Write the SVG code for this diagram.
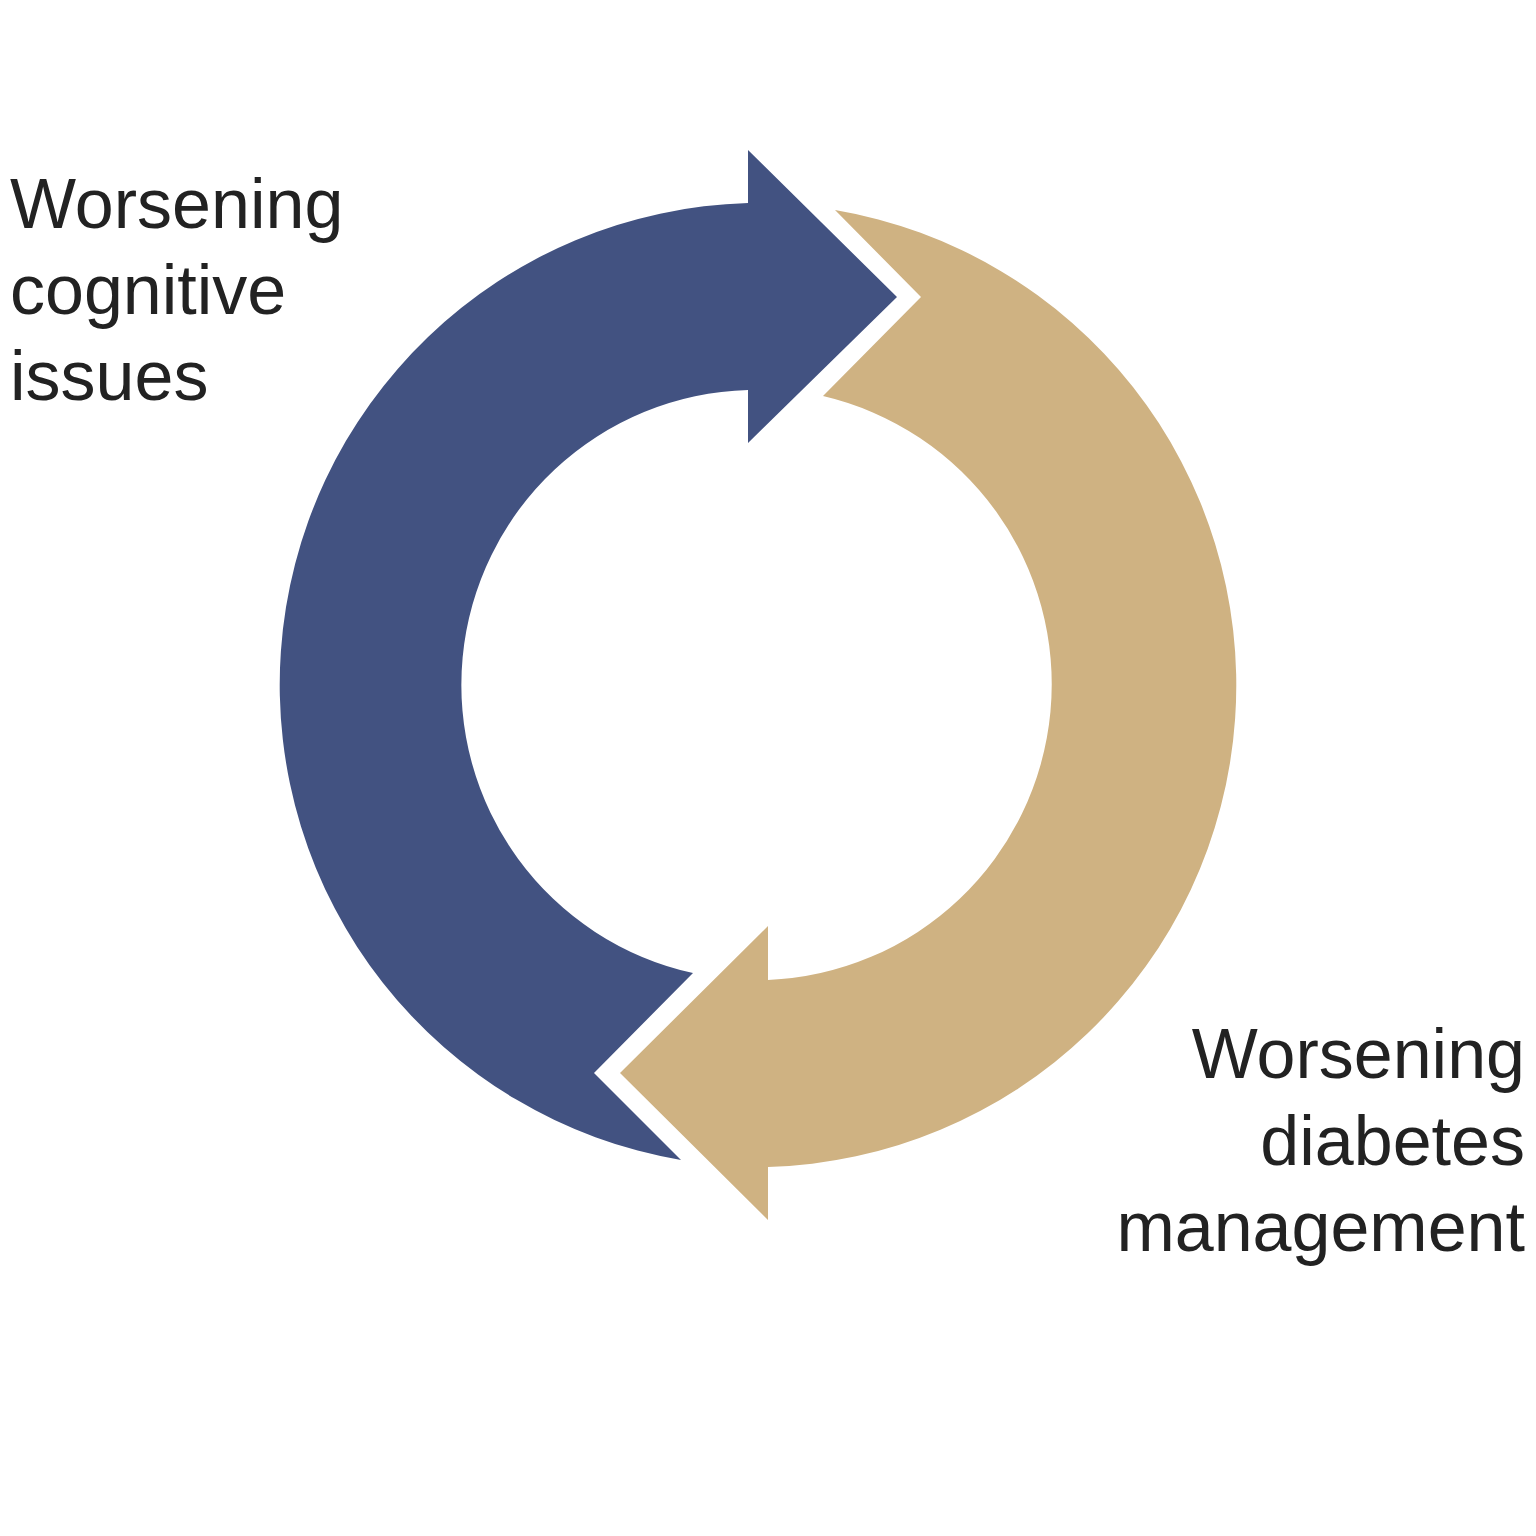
<svg xmlns="http://www.w3.org/2000/svg" width="1536" height="1536" viewBox="0 0 1536 1536">
<style>
text{font-family:"Liberation Sans",Arial,sans-serif;font-size:70px;fill:#222}
.r{text-anchor:end}
</style>
<rect width="1536" height="1536" fill="#fff"/>
<g id="blue-arrow">
<path fill="#425281" d="M681,1160 A482,482 0 0 1 748,203 L748,150 L897,297 L748,443 L748,390 A295,295 0 0 0 693,973 L594,1073 Z"/>
</g>
<g id="tan-arrow">
<path fill="#cfb282" d="M835,210 A482,482 0 0 1 768,1167 L768,1220 L620,1073 L768,926 L768,980 A296,296 0 0 0 823,396 L921,297 Z"/>
</g>
<g id="label-cognitive">
<text x="10" y="228">Worsening</text>
<text x="10" y="314">cognitive</text>
<text x="10" y="400">issues</text>
</g>
<g id="label-diabetes">
<text class="r" x="1525" y="1078">Worsening</text>
<text class="r" x="1525" y="1165">diabetes</text>
<text class="r" x="1525" y="1251">management</text>
</g>
<g id="connectors"></g>
</svg>
